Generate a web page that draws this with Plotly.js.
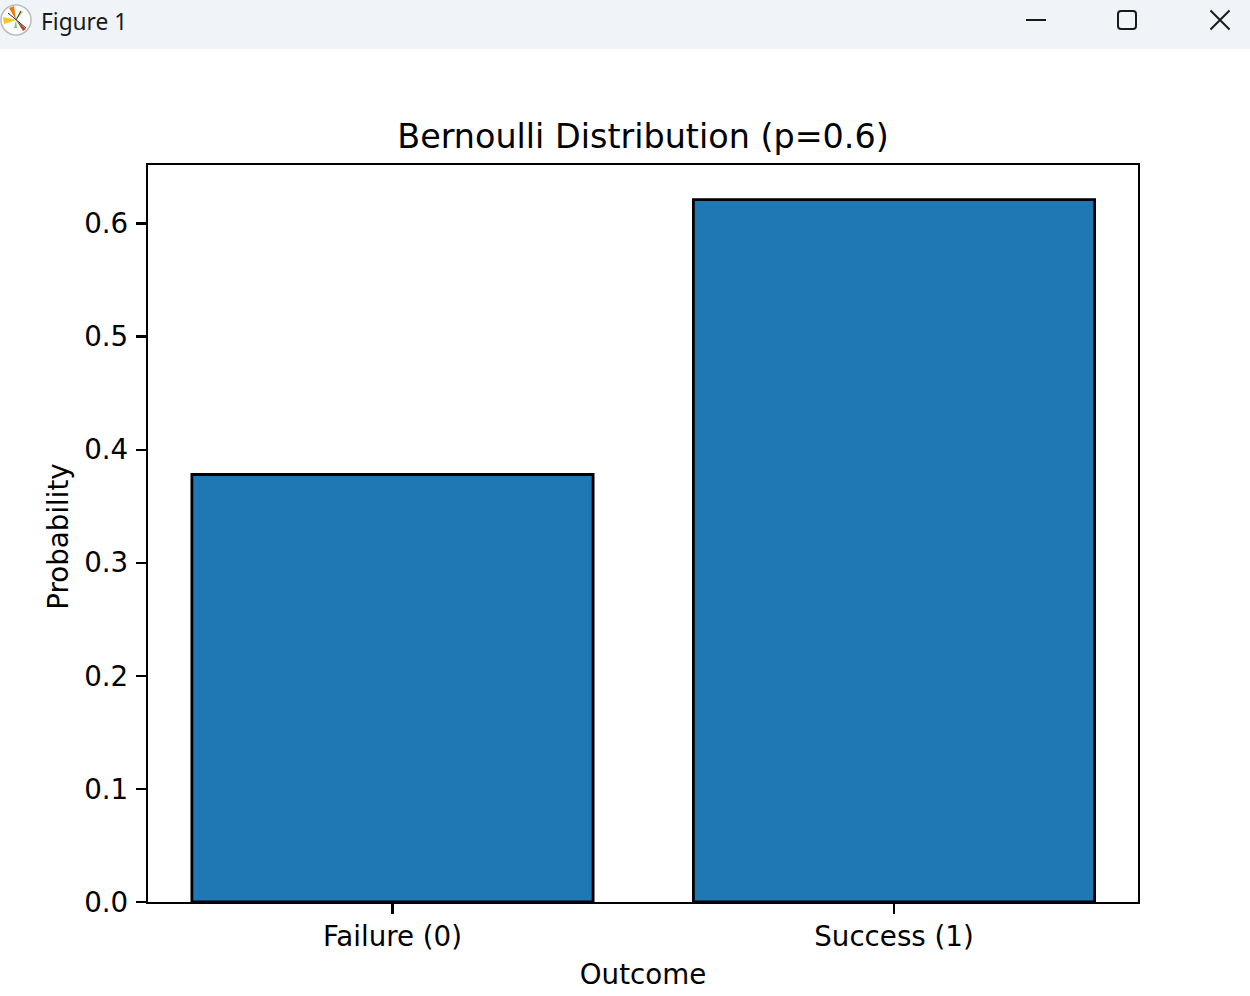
<!DOCTYPE html>
<html><head><meta charset="utf-8">
<script src="https://cdn.plot.ly/plotly-3.0.1.min.js"></script>
<style>
html,body{margin:0;padding:0;background:#fff;overflow:hidden}
#plot{position:absolute;left:0;top:0;width:1250px;height:996px}
#bar{position:absolute;left:0;top:0;width:1250px;height:49px;background:#f0f4f8;z-index:5}
#bar span{position:absolute;left:41px;top:7px;font:22.700px/30px "Noto Sans",sans-serif;color:#1a1a1a}
#bar svg{position:absolute;left:0;top:0}
</style></head><body>
<div id="plot"></div>
<div id="bar">
<svg width="1250" height="49" fill="none">
<circle cx="16" cy="20" r="15" fill="#fff" stroke="#bbb" stroke-width="1.5"/>
<path d="M16 20 L9 8 L14 6 Z" fill="#f07a10"/>
<path d="M16 20 L3 17 L4 24 Z" fill="#f5c518"/>
<path d="M16 20 L20 11 L23 12 Z" fill="#a5d64c"/>
<path d="M16 20 L14 28 L17 28 Z" fill="#7fc97f"/>
<path d="M16 20 L26 29 L23 31 Z" fill="#b5482a"/>
<path d="M8 13 L26 28 M16 20 L21 11" stroke="#333" stroke-width="1"/>
<path d="M1026 20 H1046" stroke="#1a1a1a" stroke-width="2"/>
<rect x="1118" y="11" width="18" height="18" rx="3" stroke="#1a1a1a" stroke-width="2"/>
<path d="M1210.500 10.500 L1229.500 29.500 M1229.500 10.500 L1210.500 29.500" stroke="#1a1a1a" stroke-width="2"/>
</svg>
<span>Figure 1</span>
</div>
<script>
const outcomes = ["Failure (0)", "Success (1)"];
const probabilities = [0.378, 0.621];
const yTicks = [0, 0.1, 0.2, 0.3, 0.4, 0.5, 0.6];
const yTickLabels = ["0.0", "0.1", "0.2", "0.3", "0.4", "0.5", "0.6"];
const chartTitle = "Bernoulli Distribution (p=0.6)";
const xLabel = "Outcome";
const yLabel = "Probability";

const W = 1250, H = 996;
const L = 148, R = 1138, T = 165, B = 902;
const font = {family: "DejaVu Sans", color: "#000", size: 27.7};

Plotly.newPlot("plot", [{
  type: "bar",
  x: outcomes,
  y: probabilities,
  width: 0.8,
  marker: {color: "#1f77b4", line: {color: "#000", width: 2.8}},
  hoverinfo: "skip"
}], {
  width: W, height: H,
  paper_bgcolor: "#fff", plot_bgcolor: "#fff",
  margin: {l: L, r: W - R, t: T, b: H - B, pad: 0},
  font: font,
  showlegend: false,
  title: {text: chartTitle, font: {family: "DejaVu Sans", size: 33.4, color: "#000"},
          x: 643 / W, xanchor: "center", y: 1 - 136 / H, yanchor: "middle"},
  xaxis: {
    type: "category", range: [-0.4875, 1.4865], autorange: false,
    showgrid: false, zeroline: false,
    showline: true, mirror: true, linecolor: "#000", linewidth: 2.2,
    ticks: "outside", ticklen: 10, tickwidth: 2.2, tickcolor: "#000",
    tickfont: font, ticklabelstandoff: -1,
    title: {text: xLabel, font: font, standoff: 12}
  },
  yaxis: {
    range: [0, 0.6517], autorange: false,
    tickmode: "array", tickvals: yTicks, ticktext: yTickLabels,
    showgrid: false, zeroline: false,
    showline: true, mirror: true, linecolor: "#000", linewidth: 2.2,
    ticks: "outside", ticklen: 10, tickwidth: 2.2, tickcolor: "#000",
    tickfont: font, ticklabelstandoff: 2,
    title: {text: yLabel, font: font, standoff: 8}
  }
}, {displayModeBar: false, staticPlot: true}).then(() => {
  const t = document.querySelector(".ytitle");
  if (t) t.setAttribute("transform", "translate(0,3) " + (t.getAttribute("transform") || ""));
});
</script>
</body></html>
